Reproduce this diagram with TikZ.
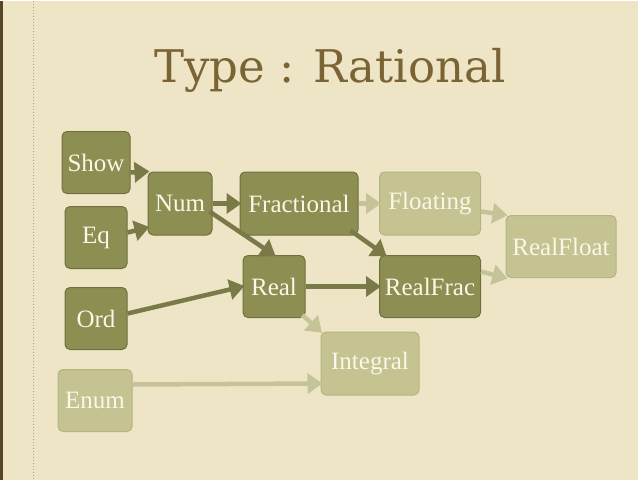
\documentclass[tikz,border=0pt]{standalone}
\usepackage{fontspec}
\setmainfont{Liberation Serif}
\newfontfamily\titlefont{DejaVu Serif}
\usetikzlibrary{arrows.meta}
\definecolor{bg}{RGB}{238,229,199}
\definecolor{dk}{RGB}{141,142,82}
\definecolor{dkb}{RGB}{112,112,62}
\definecolor{lt}{RGB}{196,195,145}
\definecolor{ltb}{RGB}{180,180,130}
\definecolor{ar}{RGB}{122,122,72}
\definecolor{arl}{RGB}{196,196,152}
\definecolor{tx}{RGB}{250,247,232}
\definecolor{ttl}{RGB}{122,100,52}
\tikzset{
 bx/.style={draw=dkb,fill=dk,rounded corners=5pt,line width=1pt,text=tx,font=\fontsize{25}{27}\selectfont,inner sep=0pt},
 lbx/.style={bx,draw=ltb,fill=lt},
 ar/.style={draw=ar,line width=4.5pt,-{Triangle[length=15pt,width=20pt]},shorten >=-2pt},
 arl/.style={ar,draw=arl}
}
\begin{document}
\begin{tikzpicture}[x=1pt,y=-1pt]
\fill[bg] (0,0) rectangle (638,479);
\fill[ttl!70!black] (0,0) rectangle (3,479);
\draw[dotted,line width=1pt,ttl!60] (33,0) -- (33,479);
\node[text=ttl,font=\titlefont\fontsize{45}{47}\selectfont] (title) at (330,70) {Type : Rational};
\node[bx,minimum width=68,minimum height=62] (show) at (96,162) {Show};
\node[bx,minimum width=62,minimum height=62] (eq) at (96,237) {Eq};
\node[bx,minimum width=64,minimum height=63] (num) at (180,203) {Num};
\node[bx,minimum width=118,minimum height=63] (frac) at (299,203) {Fractional};
\node[bx,minimum width=62,minimum height=62] (real) at (274,286) {Real};
\node[bx,minimum width=62,minimum height=62] (ord) at (96,318) {Ord};
\node[lbx,minimum width=74,minimum height=62] (enum) at (95,400) {Enum};
\node[lbx,minimum width=101,minimum height=63] (float) at (430,203) {Floating};
\node[bx,minimum width=101,minimum height=62] (rfrac) at (430,286) {RealFrac};
\node[lbx,minimum width=98,minimum height=63] (integ) at (370,363) {Integral};
\node[lbx,minimum width=110,minimum height=62] (rfloat) at (561,246) {RealFloat};
\draw[ar] (show.east) ++(0,10) -- (num.north west);
\draw[ar] (eq.east) ++(0,-5) -- ([yshift=8pt]num.west |- num.south west) ;
\draw[ar] (num) -- (frac);
\draw[ar] (num.east) ++(-3,8) -- (real.north);
\draw[ar] (ord.east) ++(0,-5) -- (real.west);
\draw[ar] (frac.south east) ++(-8,-5) -- ([xshift=6pt]rfrac.north west);
\draw[ar] (real) -- (rfrac);
\draw[arl] (frac) -- (float);
\draw[arl] (real.south east) ++(-3,-3) -- (integ.north west);
\draw[arl] (enum.east) ++(0,-16) -- (integ.west |- 0,383);
\draw[arl] (float.east) ++(0,8) -- (rfloat.north west);
\draw[arl] (rfrac.east) ++(0,-15) -- (rfloat.south west);
\end{tikzpicture}
\end{document}
